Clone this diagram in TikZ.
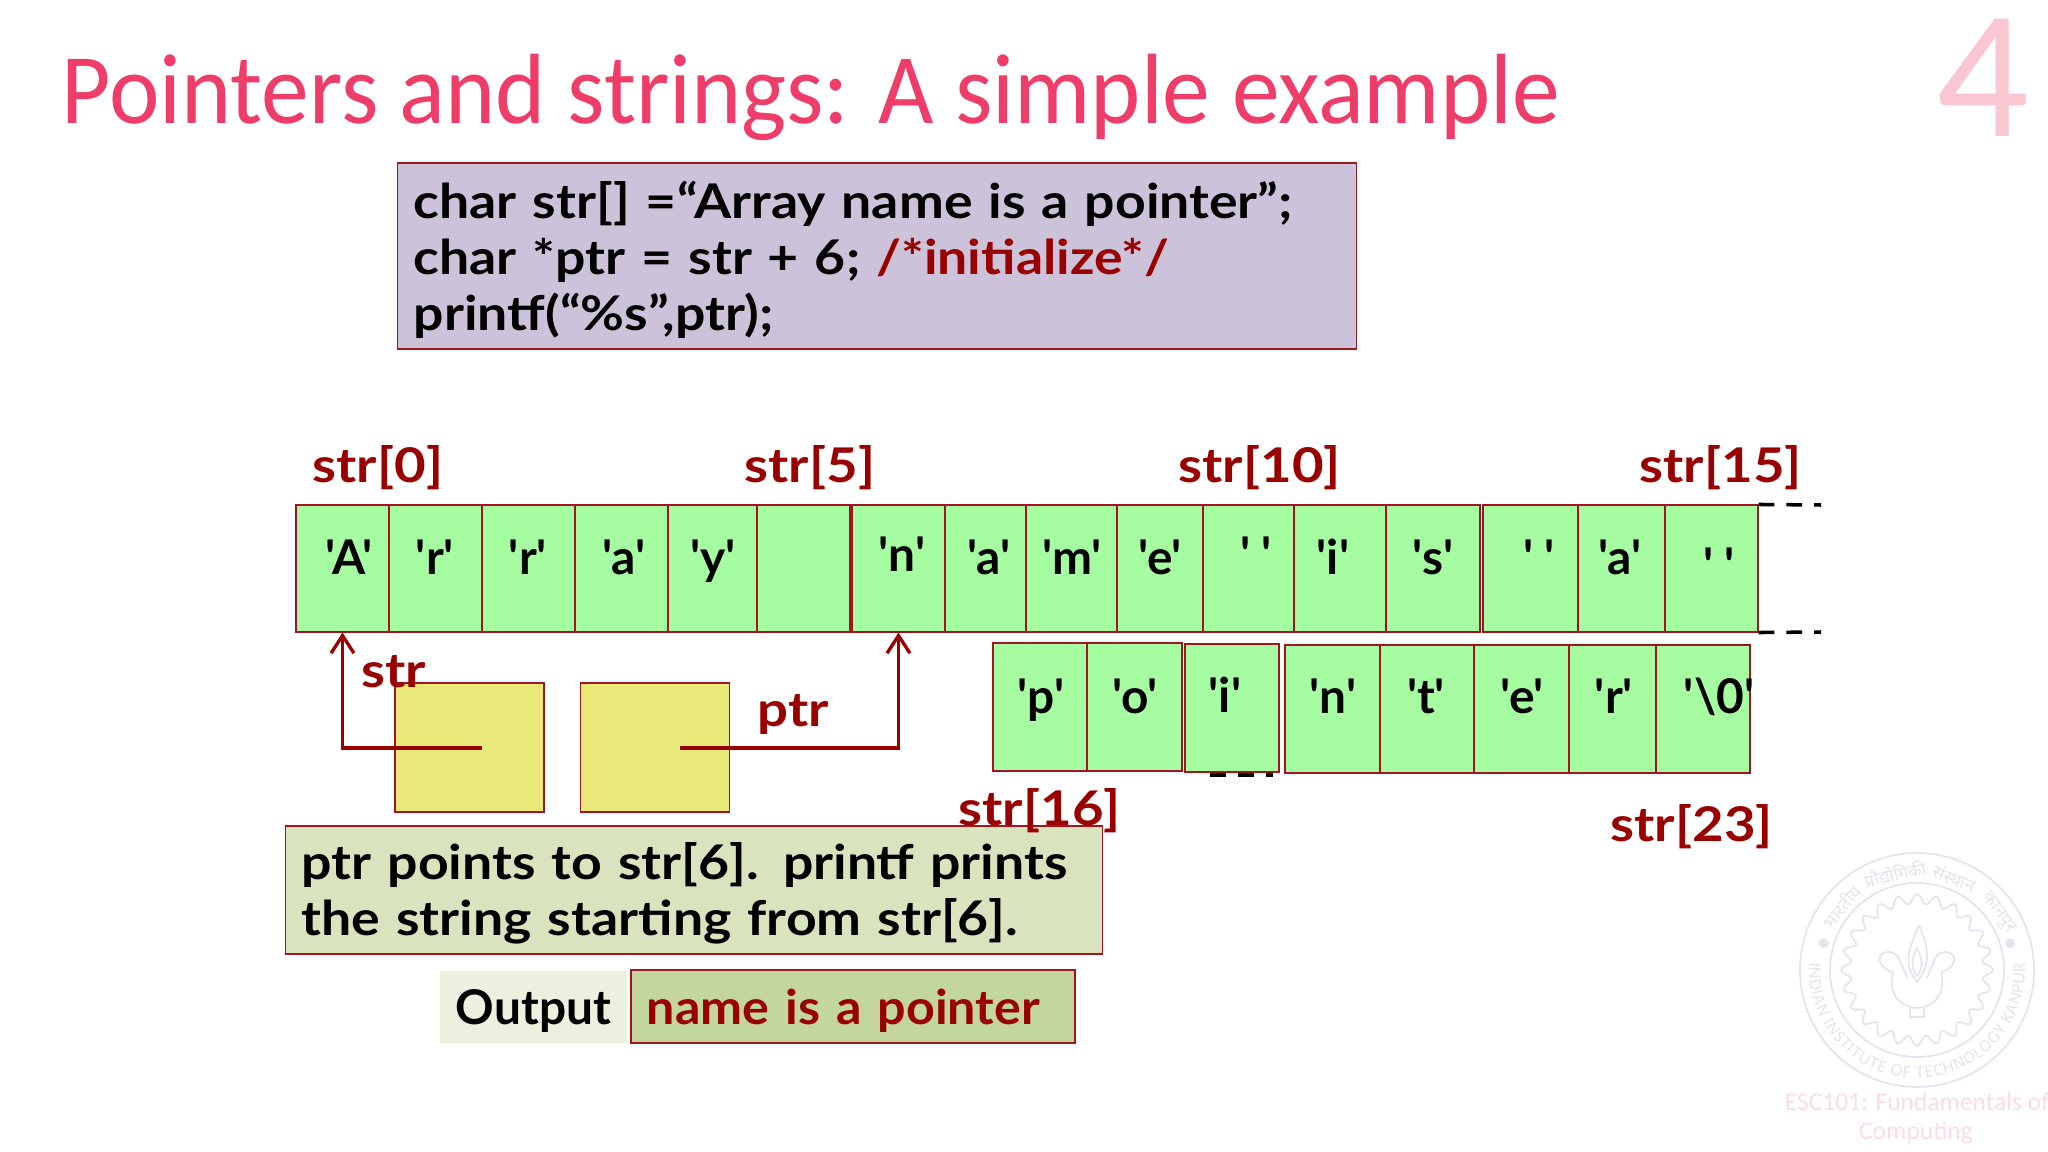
\documentclass[tikz,border=0pt]{standalone}
\usepackage{fontspec}
\usetikzlibrary{arrows.meta}
\usetikzlibrary{decorations.text}
\setmainfont{Carlito}
\newfontfamily\titlefont[FakeStretch=.957]{Carlito}
\newfontfamily\comicfont{Lato}
\newfontfamily\codefont[FakeStretch=1.12]{Lato}
\newfontfamily\idxfont[FakeStretch=1.14]{Lato}
\newfontfamily\valfont[FakeStretch=1.05]{Lato}
\newfontfamily\hindifont[Script=Devanagari]{Noto Sans}
\definecolor{darkred}{HTML}{990000}
\definecolor{edgered}{HTML}{A31420}
\definecolor{titlepink}{HTML}{EE3D68}
\definecolor{palepink}{HTML}{F9C6D2}
\definecolor{footpink}{HTML}{FADDE3}
\definecolor{sealgrey}{HTML}{E4E4EE}
\definecolor{cellgreen}{HTML}{A6FCA0}
\definecolor{boxyellow}{HTML}{E9E97A}
\definecolor{codelilac}{HTML}{CCC2DA}
\definecolor{notegreen}{HTML}{D9E4BE}
\definecolor{outlight}{HTML}{EBF1DE}
\definecolor{outgreen}{HTML}{C3D69B}
\tikzset{>={Straight Barb[length=5pt,width=6.5pt]}}
\tikzset{cell/.style={draw=edgered,fill=cellgreen,line width=.3pt,inner sep=0pt}}
\tikzset{chr/.style={anchor=base,inner sep=0pt,font=\comicfont\bfseries\fontsize{13.6}{16}\selectfont}}
\tikzset{lbl/.style={anchor=base west,inner sep=0pt,text=darkred,font=\idxfont\bfseries\fontsize{13.6}{16}\selectfont}}
\tikzset{varbox/.style={draw=edgered,fill=boxyellow,line width=.4pt,minimum width=1.49cm,minimum height=1.29cm,inner sep=0pt}}
\tikzset{txtbox/.style={draw=edgered,line width=.4pt,align=left,inner ysep=0pt,inner xsep=.16cm,font=\codefont\bfseries\fontsize{13.6}{15.9}\selectfont,execute at begin node=\rule{0pt}{12.6pt}}}
\tikzset{ptrline/.style={draw=darkred,line width=.95pt}}
\tikzset{more/.style={draw=black,line width=1pt,dash pattern=on 4.5pt off 3.4pt}}
\begin{document}
\begin{tikzpicture}[x=.01cm,y=-.01cm]
\useasboundingbox (0,0) rectangle (2048,1152);

\begin{scope}[shift={(1917,970)},y=.01cm,draw=sealgrey,text=sealgrey,line width=.5pt]
\draw (0,0) circle[radius=117];
\draw (0,0) circle[radius=87];
\draw plot[domain=0:360,samples=193,smooth] (\x:{71+5*cos(24*\x)});
\fill[sealgrey] (164:97) circle[radius=5];
\fill[sealgrey] (16:97) circle[radius=5];
\path[decorate,decoration={text along path,text align={fit to path},text color=sealgrey,
  text={|\fontsize{5}{6}\selectfont|INDIAN INSTITUTE OF TECHNOLOGY KANPUR}}]
  (176:108) arc[start angle=176,end angle=364,radius=108];
\node[rotate=50,font=\hindifont\fontsize{5}{6}\selectfont] (hia) at (140:99) {भारतीय};
\node[rotate=13,font=\hindifont\fontsize{5}{6}\selectfont] (hib) at (103:99) {प्रौद्योगिकी};
\node[rotate=-22,font=\hindifont\fontsize{5}{6}\selectfont] (hic) at (68:99) {संस्थान};
\node[rotate=-55,font=\hindifont\fontsize{5}{6}\selectfont] (hid) at (35:99) {कानपुर};
\draw (2,45) .. controls (-6,25) and (-16,8) .. (0,-12) .. controls (16,8) and (10,25) .. (2,45);
\draw (0,22) .. controls (-6,10) and (-6,2) .. (0,-6) .. controls (6,2) and (6,10) .. (0,22);
\draw (-24,-2) .. controls (-40,2) and (-42,18) .. (-28,18) .. controls (-18,18) and (-16,6) .. (-10,-8);
\draw (24,-2) .. controls (40,2) and (42,18) .. (28,18) .. controls (18,18) and (16,6) .. (10,-8);
\draw (-24,-2) .. controls (-30,-25) and (-15,-38) .. (0,-38) .. controls (15,-38) and (30,-25) .. (24,-2);
\draw (-7,-38) -- (-7,-47) -- (7,-47) -- (7,-38);
\end{scope}

\node[anchor=base west,inner sep=0pt,text=titlepink,font=\titlefont\fontsize{28.4}{34}\selectfont] (title) at (61,124) {Pointers and strings: A simple example};
\node[anchor=base east,inner sep=0pt,text=palepink,font=\fontsize{52}{60}\selectfont] (num) at (2030,137) {4};
\node[anchor=base,inner sep=0pt,text=footpink,font=\fontsize{7.25}{9}\selectfont] (foota) at (1917,1110) {ESC101: Fundamentals of};
\node[anchor=base,inner sep=0pt,text=footpink,font=\fontsize{7.25}{9}\selectfont] (footb) at (1916,1139) {Computing};

\node[txtbox,fill=codelilac,minimum height=1.86cm,text width=9.26cm] (code) at (877,256) {char str[] =“Array name is a pointer”;\\
char *ptr = str + 6; \textcolor{darkred}{/*initialize*/}\\
printf(“\%s”,ptr);};

\foreach \xl/\xr/\yt/\yb/\tx/\ty/\ch [count=\i from 0, evaluate=\xl as \xc using (\xl+\xr)/2, evaluate=\xl as \cw using (\xr-\xl)*.01, evaluate=\yt as \yc using (\yt+\yb)/2, evaluate=\yt as \chh using (\yb-\yt)*.01] in {
296/389/505/632/349/574/'A',
389/482/505/632/435/574/'r',
482/575/505/632/528/574/'r',
575/668/505/632/624/574/'a',
668/757/505/632/713/574/'y',
757/850/505/632/804/574/,
852/945/505/632/902/572/'n',
945/1026/505/632/989/574/'a',
1026/1117/505/632/1072/574/'m',
1117/1203/505/632/1160/574/'e',
1203/1294/505/632/1256/571/' ',
1294/1386/505/632/1333/574/'i',
1386/1480/505/632/1433/574/'s',
1483/1578/505/632/1539/574/' ',
1578/1665/505/632/1620/574/'a',
1665/1758/505/632/1719/583/' ',
993/1087/643/771/1041/713/'p',
1087/1182/643/771/1135/713/'o',
1185/1279/644/772/1225/712/'i',
1285/1380/645/773/1333/713/'n',
1380/1474/645/773/1426/713/'t',
1474/1569/645/773/1522/713/'e',
1569/1656/645/773/1614/713/'r',
1656/1750/645/773/1719/713/'\textbackslash 0'}{
  \node[cell,minimum width=\cw cm,minimum height=\chh cm] (c\i) at (\xc,\yc) {};
  \node[chr] (t\i) at (\tx,\ty) {\ch};
}

\coordinate (morea) at (1821,505);
\coordinate (moreb) at (1821,632);
\coordinate (morec) at (1210,775);
\coordinate (mored) at (1273,775);
\draw[more] (c15.north east) -- (morea);
\draw[more] (c15.south east) -- (moreb);
\draw[more] (morec) -- (mored);

\node[lbl] (idxa) at (312,482) {str[0]};
\node[lbl] (idxb) at (744,482) {str[5]};
\node[lbl] (idxc) at (1178,482) {str[10]};
\node[lbl] (idxd) at (1639,482) {str[15]};

\node[varbox] (strbox) at (469.5,747.5) {};
\node[varbox] (ptrbox) at (655,747.5) {};
\coordinate (strfrom) at (482,748);
\coordinate (ptrfrom) at (680,748);
\draw[ptrline,->] (strfrom) -| (c0.south);
\draw[ptrline,->] (ptrfrom) -| (c6.south);
\node[lbl] (strname) at (361,687) {str};
\node[lbl] (ptrname) at (757,726) {ptr};

\node[txtbox,fill=notegreen,minimum height=1.28cm,text width=7.84cm] (note) at (694,890) {ptr points to str[6]. printf prints\\
the string starting from str[6].};
\node[lbl] (idxe) at (958,825) {str[16]};
\node[lbl] (idxf) at (1610,841) {str[23]};

\node[fill=outlight,minimum width=1.87cm,minimum height=.72cm,inner sep=0pt,font=\comicfont\bfseries\fontsize{13.6}{16}\selectfont,execute at begin node=\rule{0pt}{12.5pt}] (outname) at (533.5,1007) {Output};
\node[txtbox,fill=outgreen,text=darkred,minimum height=.73cm,text width=4.12cm,font=\valfont\bfseries\fontsize{13.6}{16}\selectfont,execute at begin node=\rule{0pt}{11.2pt}] (outval) at (853,1006.5) {name is a pointer};
\end{tikzpicture}
\end{document}
